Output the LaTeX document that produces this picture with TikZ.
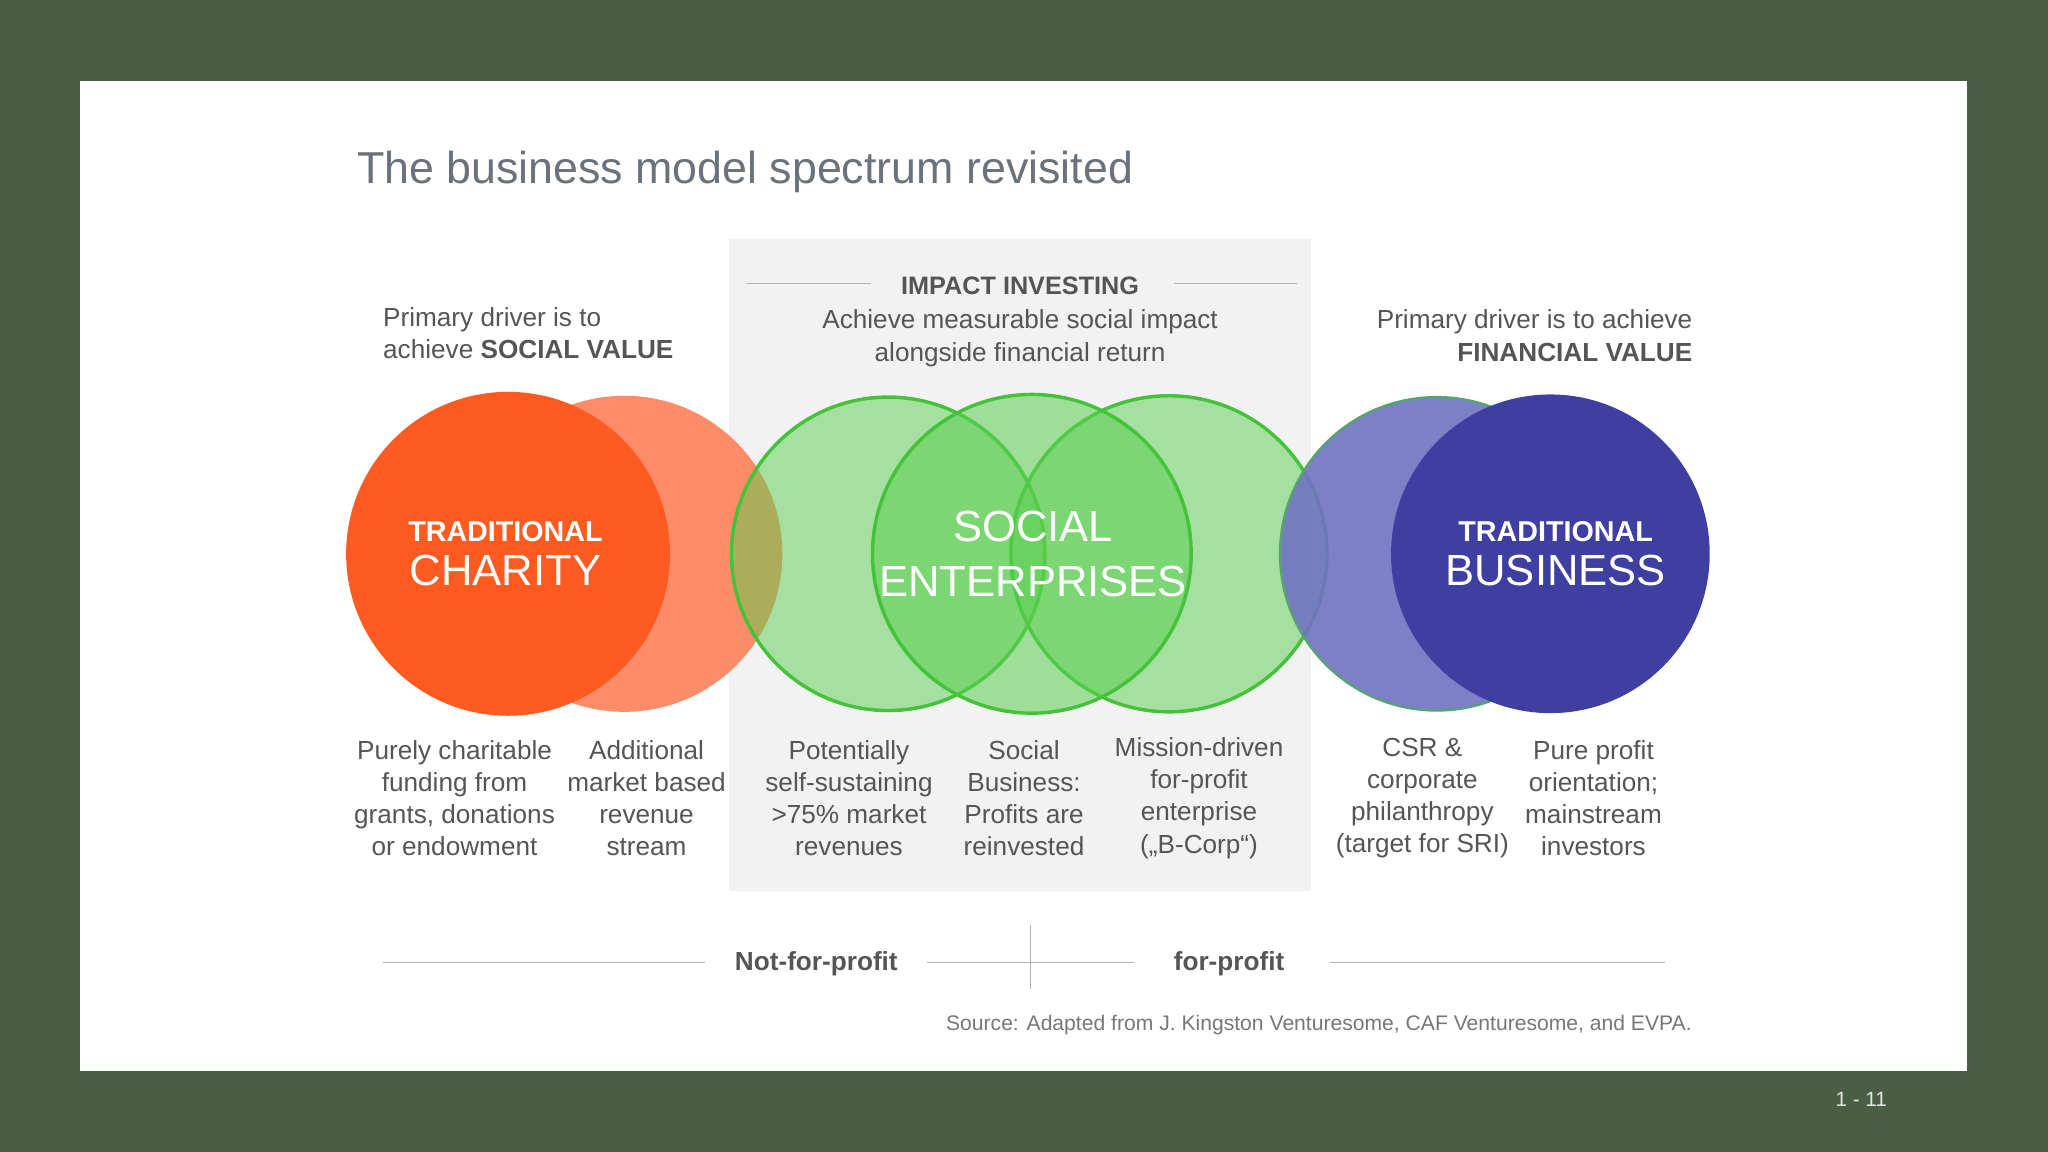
\documentclass[tikz,border=0pt]{standalone}
\usepackage{fontspec}
\setmainfont{Liberation Sans}
\definecolor{bg}{HTML}{4A5E45}
\definecolor{txt}{HTML}{555555}
\definecolor{ttl}{HTML}{6A737B}
\definecolor{orD}{HTML}{FF5A1F}
\definecolor{orL}{HTML}{FF8C68}
\definecolor{grF}{HTML}{5ACF50}
\definecolor{grE}{HTML}{44C23A}
\definecolor{blL}{HTML}{7073C2}
\definecolor{blD}{HTML}{3E3FA0}
\definecolor{pan}{HTML}{F3F2F2}
\begin{document}
\begin{tikzpicture}[x=0.02cm,y=-0.02cm,
 body/.style={text=txt,font=\fontsize{11.4}{14}\selectfont,align=center,inner sep=0},
 rule/.style={draw=gray!60,line width=0.6pt}]
\useasboundingbox (0,0) rectangle (1568,882);
\fill[bg] (0,0) rectangle (1568,882);
\fill[white] (61,62) rectangle (1506,820);
\node[text=white!85!bg,font=\fontsize{9}{11}\selectfont] (pg) at (1425,842) {1 - 11};
\fill[pan] (558,183) rectangle (1004,682);
\node[anchor=west,text=ttl,font=\fontsize{19.5}{22}\selectfont,inner sep=0] (title) at (273,132) {The business model spectrum revisited};
% impact investing
\node[body,font=\bfseries\fontsize{11}{14}\selectfont] (ii) at (781,219) {IMPACT INVESTING};
\coordinate (i1) at (572,217); \coordinate (i2) at (667,217);
\coordinate (i3) at (899,217); \coordinate (i4) at (993,217);
\draw[rule] (i1) -- (i2); \draw[rule] (i3) -- (i4);
\node[body] (iit) at (781,259) {Achieve measurable social impact\\alongside financial return};
\node[body,align=left,anchor=west] (sv) at (293,255) {Primary driver is to\\achieve \textbf{SOCIAL VALUE}};
\node[body,align=right,anchor=east] (fv) at (1296,257) {Primary driver is to achieve\\\textbf{FINANCIAL VALUE}};
% circles
\fill[orL] (478,424) circle (121);
\fill[orD] (389,424) circle (124);
\fill[grF,fill opacity=0.5,draw=grE,line width=1.5pt] (680,424) circle (120);
\fill[grF,fill opacity=0.5,draw=grE,line width=1.5pt] (895,424) circle (121);
\fill[grF,fill opacity=0.55,draw=grE,line width=1.5pt] (790,424) circle (122);
\fill[blL,fill opacity=0.9,draw=grE!60!blL,line width=1pt] (1100,424) circle (120);
\fill[blD] (1187,424) circle (122);
\node[text=white,align=center,inner sep=0] (tc) at (387,424) {{\bfseries\fontsize{12.5}{15}\selectfont TRADITIONAL}\\[5pt]{\fontsize{19}{22}\selectfont CHARITY}};
\node[text=white,align=center,inner sep=0,font=\fontsize{19}{24}\selectfont] (se) at (791,424) {SOCIAL\\ENTERPRISES};
\node[text=white,align=center,inner sep=0] (tb) at (1191,424) {{\bfseries\fontsize{12.5}{15}\selectfont TRADITIONAL}\\[5pt]{\fontsize{19}{22}\selectfont BUSINESS}};
% descriptions
\node[body] (d1) at (348,611) {Purely charitable\\funding from\\grants, donations\\or endowment};
\node[body] (d2) at (495,611) {Additional\\market based\\revenue\\stream};
\node[body] (d3) at (650,611) {Potentially\\self-sustaining\\>75\% market\\revenues};
\node[body] (d4) at (784,611) {Social\\Business:\\Profits are\\reinvested};
\node[body] (d5) at (918,611) {Mission-driven\\for-profit\\enterprise\\(„B-Corp“)};
\node[body] (d6) at (1089,611) {CSR \&\\corporate\\philanthropy\\(target for SRI)};
\node[body] (d7) at (1220,611) {Pure profit\\orientation;\\mainstream\\investors};
% bottom axis
\node[body,font=\bfseries\fontsize{11.4}{14}\selectfont] (nfp) at (625,738) {Not-for-profit};
\node[body,font=\bfseries\fontsize{11.4}{14}\selectfont] (fp) at (941,738) {for-profit};
\coordinate (a1) at (293,737); \coordinate (a2) at (540,737);
\coordinate (a3) at (710,737); \coordinate (a4) at (868,737);
\coordinate (a5) at (1018,737); \coordinate (a6) at (1275,737);
\coordinate (t1) at (789,708); \coordinate (t2) at (789,757);
\draw[rule] (a1) -- (a2); \draw[rule] (a3) -- (a4); \draw[rule] (a5) -- (a6); \draw[rule] (t1) -- (t2);
\node[text=txt!80,font=\fontsize{9.2}{10}\selectfont,anchor=west,inner sep=0] (src) at (724,785) {Source: Adapted from J. Kingston Venturesome, CAF Venturesome, and EVPA.};
\end{tikzpicture}
\end{document}
